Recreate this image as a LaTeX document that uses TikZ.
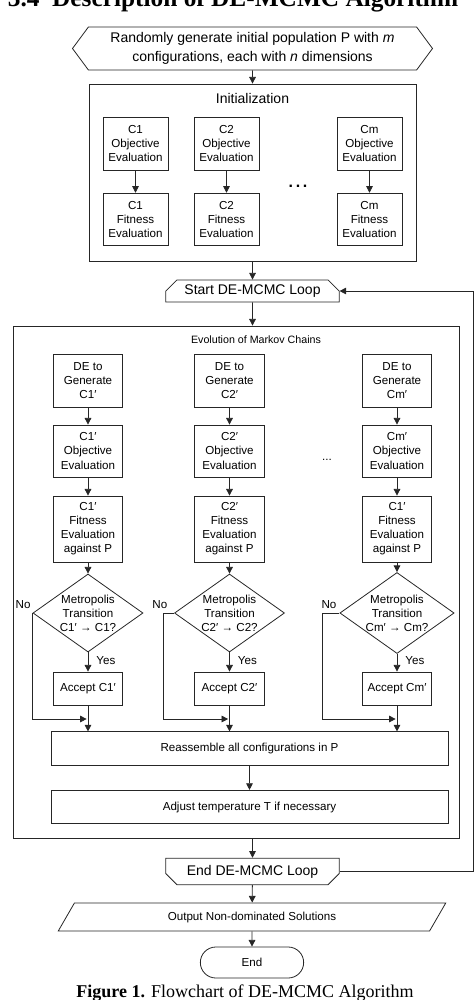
\documentclass[tikz,border=0pt]{standalone}
\usepackage{fontspec}
\setmainfont{Liberation Sans}
\newfontfamily\capserif{Liberation Serif}
\usetikzlibrary{arrows.meta,shapes.geometric,shapes.misc,shapes.symbols}

\begin{document}
\begin{tikzpicture}[x=0.75pt, y=-0.75pt, line width=0.6pt, draw=black!85,
  >={Triangle[width=5pt,length=5pt]},
  big/.style={font=\fontsize{10.5}{14}\selectfont, align=center},
  small/.style={font=\fontsize{8.7}{10.5}\selectfont, align=center},
  proc/.style={small, draw, rectangle, inner sep=1pt, minimum width=52pt},
  iproc/.style={proc, minimum width=48.75pt, minimum height=39.5pt},
  wide/.style={proc, minimum width=297.75pt, minimum height=25pt},
  frame/.style={draw, rectangle, inner sep=0pt},
  decision/.style={small, draw, diamond, shape aspect=1.41, inner sep=0pt, minimum width=82.5pt, minimum height=58.5pt},
  loopbox/.style={big, draw, chamfered rectangle, chamfered rectangle xsep=5pt, minimum width=130pt, inner sep=0pt},
  yes/.style={small, right, inner sep=1pt, xshift=5pt, pos=0.4},
  no/.style={small, anchor=south},
]
\useasboundingbox (0,0) rectangle (474,1000);

% Heading and caption
\node[anchor=base, inner sep=0pt, font=\capserif\fontsize{19}{19}\selectfont\bfseries] (head) at (233,6)
{3.4\enspace Description of DE-MCMC Algorithm};
\node[anchor=base, inner sep=0pt, font=\capserif\fontsize{13.5}{14}\selectfont] (cap) at (245,997)
{\textbf{Figure 1.} Flowchart of DE-MCMC Algorithm};

% Define nodes
\path (252.5,48.5)
node[big, draw, signal, signal to=east and west, signal pointer angle=107, minimum width=270pt, minimum height=32.25pt, inner sep=0pt] (rand)
{Randomly generate initial population P with \textit{m}\\configurations, each with \textit{n} dimensions}
(252.5,172.5) node[frame, minimum width=245.25pt, minimum height=132.75pt] (initbox) {}
(252.5,98) node[big] (initlab) {Initialization}
(135.5,144) node[iproc] (iobj1) {C1\\Objective\\Evaluation}
(226.5,144) node[iproc] (iobj2) {C2\\Objective\\Evaluation}
(369.5,144) node[iproc] (iobjm) {Cm\\Objective\\Evaluation}
(135.5,219.5) node[iproc] (ifit1) {C1\\Fitness\\Evaluation}
(226.5,219.5) node[iproc] (ifit2) {C2\\Fitness\\Evaluation}
(369.5,219.5) node[iproc] (ifitm) {Cm\\Fitness\\Evaluation}
(298,186) node[font=\fontsize{12}{12}\selectfont\bfseries] (idots) {.\,.\,.}
(252.5,291) node[loopbox, chamfered rectangle corners={north west,north east}, minimum height=16.5pt] (start) {Start DE-MCMC Loop}
;

\path (236,582) node[frame, minimum width=334.5pt, minimum height=384pt] (evol) {}
(256,340) node[font=\fontsize{8}{10}\selectfont] (evollab) {Evolution of Markov Chains}
(327,460) node[small] (edots) {...}
% chain 1
(88,380.5) node[proc, minimum height=39.75pt] (de1) {DE to\\Generate\\C1′}
(de1) +(0,70.5) node[proc, minimum height=39pt] (obj1) {C1′\\Objective\\Evaluation}
(obj1) +(0,78) node[proc, minimum height=49.5pt] (fit1) {C1′\\Fitness\\Evaluation\\against P}
(fit1) +(0,84) node[decision] (met1) {Metropolis\\Transition\\C1′ → C1?}
(met1) +(0,75.5) node[proc, minimum height=24.75pt] (acc1) {Accept C1′}
% chain 2
(229.5,380.5) node[proc, minimum height=39.75pt] (de2) {DE to\\Generate\\C2′}
(de2) +(0,70.5) node[proc, minimum height=39pt] (obj2) {C2′\\Objective\\Evaluation}
(obj2) +(0,78) node[proc, minimum height=49.5pt] (fit2) {C2′\\Fitness\\Evaluation\\against P}
(fit2) +(0,84) node[decision] (met2) {Metropolis\\Transition\\C2′ → C2?}
(met2) +(0,75.5) node[proc, minimum height=24.75pt] (acc2) {Accept C2′}
% chain m
(397,380.5) node[proc, minimum height=39.75pt] (dem) {DE to\\Generate\\Cm′}
(dem) +(0,70.5) node[proc, minimum height=39pt] (objm) {Cm′\\Objective\\Evaluation}
(objm) +(0,78) node[proc, minimum height=49.5pt] (fitm) {C1′\\Fitness\\Evaluation\\against P}
(fitm) +(0,84) node[decision] (metm) {Metropolis\\Transition\\Cm′ → Cm?}
(metm) +(0,75.5) node[proc, minimum height=24.75pt] (accm) {Accept Cm′}
(249.5,748.5) node[wide] (reas) {Reassemble all configurations in P}
(249.5,807) node[wide] (adj) {Adjust temperature T if necessary}
(32,719) coordinate (nob1)
(163,719) coordinate (nob2)
(322,719) coordinate (nobm)
;

\path (252.5,871.5)
node[loopbox, chamfered rectangle corners={south west,south east}, minimum height=20pt] (endloop) {End DE-MCMC Loop}
(473,871.5) coordinate (back)
(252,917) node[small, draw, trapezium, trapezium left angle=60, trapezium right angle=120, minimum width=219pt, minimum height=21pt, inner sep=1pt] (out) {Output Non-dominated Solutions}
(252,962.5) node[small, draw, rounded rectangle, minimum width=79.5pt, minimum height=23.25pt, inner sep=1pt] (end) {End}
;

\draw[->] (rand) -- (initbox);
\draw[->] (iobj1) -- (ifit1);
\draw[->] (iobj2) -- (ifit2);
\draw[->] (iobjm) -- (ifitm);
\draw[->] (initbox) -- (start);
\draw[->] (start) -- (start |- evol.north);

\draw[->] (de1) -- (obj1);
\draw[->] (obj1) -- (fit1);
\draw[->] (fit1) -- (met1);
\draw[->] (met1) -- node[yes] {Yes} (acc1);
\draw[->] (acc1) -- (acc1 |- reas.north);
\draw[->, shorten >=1pt] (met1.west) -| node[no, pos=0.1, xshift=-7] {No} (nob1) -- (acc1 |- nob1);
\draw[->] (de2) -- (obj2);
\draw[->] (obj2) -- (fit2);
\draw[->] (fit2) -- (met2);
\draw[->] (met2) -- node[yes] {Yes} (acc2);
\draw[->] (acc2) -- (acc2 |- reas.north);
\draw[->, shorten >=1pt] (met2.west) -| node[no, pos=0.4, xshift=-4] {No} (nob2) -- (acc2 |- nob2);
\draw[->] (dem) -- (objm);
\draw[->] (objm) -- (fitm);
\draw[->] (fitm) -- (metm);
\draw[->] (metm) -- node[yes] {Yes} (accm);
\draw[->] (accm) -- (accm |- reas.north);
\draw[->, shorten >=1pt] (metm.west) -| node[no, pos=0.3, xshift=0] {No} (nobm) -- (accm |- nobm);
\draw[->] (reas) -- (adj);

\draw[->] (endloop |- evol.south) -- (endloop);
\draw[->] (endloop.east) -- (back) |- (start.east);
\draw[->] (endloop) -- (out);
\draw[->] (out) -- (end);

\end{tikzpicture}
\end{document}
